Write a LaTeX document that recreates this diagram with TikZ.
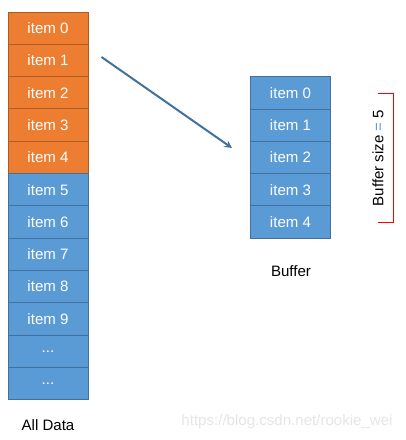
\documentclass[tikz,border=0pt]{standalone}
\usepackage{fontspec}
\setmainfont{Liberation Sans}
\definecolor{cellorange}{HTML}{ED7D31}
\definecolor{edgeorange}{HTML}{AE5A21}
\definecolor{cellblue}{HTML}{5B9BD5}
\definecolor{edgeblue}{HTML}{41719C}
\tikzset{
  old/.style={draw=edgeorange, fill=cellorange, text=white, minimum width=60pt, minimum height=24.2pt, line width=0.75pt, inner sep=0pt},
  new/.style={draw=edgeblue, fill=cellblue, text=white, minimum width=60pt, minimum height=24.2pt, line width=0.75pt, inner sep=0pt},
}
\begin{document}
\begin{tikzpicture}[x=0.75pt, y=-0.75pt, every node/.style={font=\fontsize{11.3}{13}\selectfont}]
\useasboundingbox (0,0) rectangle (406,440);
% all data
\node[old] (d0) at (48,28.2) {item 0};
\node[old] (d1) at (48,60.5) {item 1};
\node[old] (d2) at (48,92.8) {item 2};
\node[old] (d3) at (48,125.1) {item 3};
\node[old] (d4) at (48,157.4) {item 4};
\node[new] (d5) at (48,189.7) {item 5};
\node[new] (d6) at (48,222.0) {item 6};
\node[new] (d7) at (48,254.3) {item 7};
\node[new] (d8) at (48,286.6) {item 8};
\node[new] (d9) at (48,318.9) {item 9};
\node[new] (d10) at (48,351.2) {...};
\node[new] (d11) at (48,383.5) {...};
\node (all) at (48,425) {All Data};
% buffer
\node[new] (b0) at (290.5,93.1) {item 0};
\node[new] (b1) at (290.5,125.3) {item 1};
\node[new] (b2) at (290.5,157.5) {item 2};
\node[new] (b3) at (290.5,189.7) {item 3};
\node[new] (b4) at (290.5,221.9) {item 4};
\node (buf) at (291,271) {Buffer};
\draw[->, >=stealth, edgeblue, line width=1.5pt] ([shift={(13,-3.5)}]d1.east) -- ([shift={(-18,-9.5)}]b2.west);
% buffer size
\node[rotate=90] (bsize) at (378,158) {Buffer size {\color{cellblue}=} 5};
\draw[red, line width=0.75pt] (378,93) -- (393,93) -- (393,222) -- (378,222);
\node[text=black!10] (mark) at (287,422) {https://blog.csdn.net/rookie\_wei};
\end{tikzpicture}
\end{document}
